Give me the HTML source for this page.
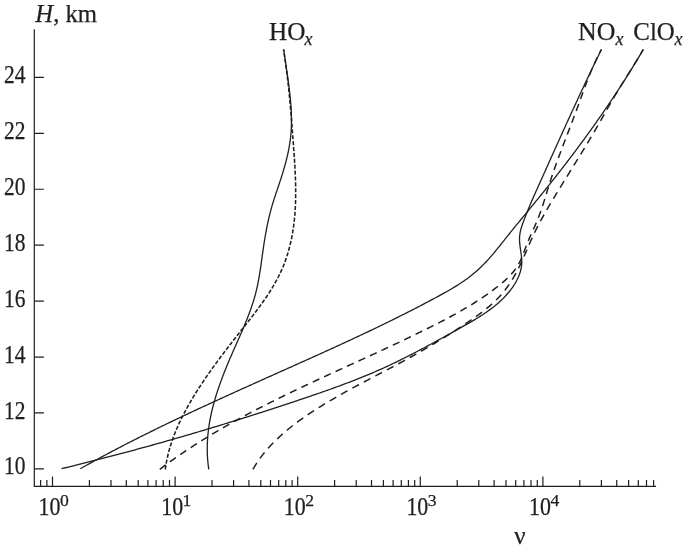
<!DOCTYPE html>
<html><head><meta charset="utf-8"><title>Figure</title>
<style>html,body{margin:0;padding:0;background:#fff}svg{display:block}</style>
</head><body>
<svg width="685" height="553" viewBox="0 0 685 553">
<rect width="685" height="553" fill="#fff"/>
<g fill="none" stroke="#1f1f1f" stroke-width="1.2" stroke-linecap="butt">
<path d="M34.3 29.3 V486.3 H656.1"/>
<path d="M34.3 468.90 h9.6 M34.3 412.97 h9.6 M34.3 357.04 h9.6 M34.3 301.11 h9.6 M34.3 245.19 h9.6 M34.3 189.26 h9.6 M34.3 133.33 h9.6 M34.3 77.40 h9.6 M40.62 486.3 v-6.2 M46.89 486.3 v-6.2 M52.50 486.3 v-9.8 M89.41 486.3 v-6.2 M111.00 486.3 v-6.2 M126.31 486.3 v-6.2 M138.19 486.3 v-6.2 M147.90 486.3 v-6.2 M156.11 486.3 v-6.2 M163.22 486.3 v-6.2 M169.49 486.3 v-6.2 M175.10 486.3 v-9.8 M212.01 486.3 v-6.2 M233.60 486.3 v-6.2 M248.91 486.3 v-6.2 M260.79 486.3 v-6.2 M270.50 486.3 v-6.2 M278.71 486.3 v-6.2 M285.82 486.3 v-6.2 M292.09 486.3 v-6.2 M297.70 486.3 v-9.8 M334.61 486.3 v-6.2 M356.20 486.3 v-6.2 M371.51 486.3 v-6.2 M383.39 486.3 v-6.2 M393.10 486.3 v-6.2 M401.31 486.3 v-6.2 M408.42 486.3 v-6.2 M414.69 486.3 v-6.2 M420.30 486.3 v-9.8 M457.21 486.3 v-6.2 M478.80 486.3 v-6.2 M494.11 486.3 v-6.2 M505.99 486.3 v-6.2 M515.70 486.3 v-6.2 M523.91 486.3 v-6.2 M531.02 486.3 v-6.2 M537.29 486.3 v-6.2 M542.90 486.3 v-9.8 M579.81 486.3 v-6.2 M601.40 486.3 v-6.2 M616.71 486.3 v-6.2 M628.59 486.3 v-6.2 M638.30 486.3 v-6.2 M646.51 486.3 v-6.2 M653.62 486.3 v-6.2 "/>
</g>
<g fill="none" stroke="#1f1f1f" stroke-width="1.3" stroke-linejoin="round">
<path d="M208.80 469.40L208.50 467.36 208.24 465.32 208.01 463.28 207.81 461.25 207.64 459.22 207.50 457.20 207.40 455.18 207.32 453.17 207.27 451.16 207.25 449.15 207.26 447.14 207.30 445.15 207.36 443.15 207.45 441.16 207.57 439.17 207.71 437.18 207.88 435.20 208.07 433.23 208.29 431.25 208.53 429.28 208.80 427.32 209.09 425.35 209.40 423.39 209.73 421.44 210.09 419.48 210.46 417.53 210.86 415.59 211.27 413.65 211.71 411.71 212.16 409.77 212.64 407.84 213.13 405.91 213.64 403.98 214.17 402.06 214.71 400.14 215.27 398.22 215.85 396.31 216.44 394.39 217.04 392.49 217.66 390.58 218.30 388.68 218.95 386.78 219.61 384.88 220.28 382.99 220.96 381.10 221.66 379.21 222.37 377.32 223.09 375.44 223.81 373.56 224.55 371.68 225.30 369.80 226.05 367.93 226.82 366.06 227.59 364.19 228.37 362.33 229.15 360.46 229.94 358.60 230.74 356.74 231.54 354.89 232.35 353.03 233.16 351.18 233.97 349.33 234.79 347.49 235.61 345.64 236.43 343.79 237.24 341.95 238.06 340.10 238.88 338.26 239.69 336.42 240.50 334.57 241.31 332.73 242.11 330.88 242.90 329.03 243.69 327.18 244.46 325.33 245.23 323.48 245.99 321.62 246.74 319.77 247.48 317.91 248.21 316.04 248.92 314.17 249.62 312.30 250.30 310.43 250.97 308.55 251.62 306.66 252.26 304.78 252.87 302.88 253.47 300.98 254.05 299.08 254.60 297.16 255.14 295.25 255.65 293.32 256.13 291.39 256.60 289.45 257.04 287.51 257.46 285.56 257.87 283.60 258.25 281.64 258.62 279.67 258.97 277.70 259.31 275.73 259.64 273.75 259.96 271.77 260.27 269.78 260.56 267.80 260.86 265.81 261.14 263.82 261.42 261.83 261.70 259.84 261.98 257.85 262.25 255.86 262.53 253.87 262.81 251.88 263.10 249.89 263.39 247.91 263.68 245.93 263.98 243.94 264.29 241.97 264.61 239.99 264.93 238.01 265.26 236.04 265.60 234.07 265.96 232.11 266.32 230.14 266.69 228.18 267.08 226.23 267.48 224.27 267.89 222.32 268.32 220.37 268.76 218.43 269.22 216.48 269.69 214.55 270.18 212.61 270.68 210.68 271.20 208.75 271.74 206.83 272.30 204.91 272.88 202.99 273.47 201.08 274.08 199.17 274.70 197.26 275.33 195.36 275.96 193.45 276.61 191.55 277.25 189.64 277.90 187.74 278.54 185.83 279.18 183.92 279.82 182.01 280.45 180.10 281.08 178.18 281.69 176.26 282.29 174.34 282.88 172.41 283.46 170.48 284.03 168.55 284.58 166.62 285.12 164.68 285.64 162.74 286.15 160.80 286.64 158.85 287.11 156.90 287.56 154.95 287.99 152.99 288.39 151.03 288.78 149.07 289.14 147.11 289.48 145.14 289.80 143.17 290.09 141.20 290.35 139.22 290.59 137.24 290.80 135.26 290.97 133.27 291.12 131.29 291.25 129.30 291.34 127.30 291.41 125.31 291.46 123.31 291.48 121.31 291.48 119.31 291.45 117.31 291.41 115.31 291.34 113.30 291.26 111.30 291.15 109.29 291.03 107.28 290.89 105.27 290.74 103.27 290.57 101.26 290.39 99.25 290.19 97.24 289.98 95.23 289.76 93.22 289.53 91.22 289.29 89.21 289.04 87.20 288.78 85.20 288.52 83.20 288.24 81.19 287.97 79.19 287.69 77.20 287.40 75.20 287.12 73.21 286.83 71.21 286.54 69.22 286.25 67.24 285.96 65.25 285.68 63.27 285.39 61.29 285.11 59.32 284.84 57.35 284.57 55.38 284.30 53.42 284.05 51.46 283.80 49.50"/>
<path d="M61.50 468.70L63.45 468.23 65.41 467.75 67.36 467.28 69.31 466.80 71.26 466.32 73.21 465.84 75.16 465.36 77.11 464.87 79.06 464.39 81.01 463.90 82.95 463.42 84.90 462.93 86.85 462.44 88.79 461.95 90.73 461.46 92.68 460.96 94.62 460.47 96.56 459.97 98.50 459.48 100.45 458.98 102.39 458.48 104.32 457.97 106.26 457.47 108.20 456.97 110.14 456.46 112.08 455.96 114.01 455.45 115.95 454.94 117.88 454.43 119.82 453.91 121.75 453.40 123.69 452.89 125.62 452.37 127.55 451.85 129.48 451.33 131.41 450.81 133.34 450.29 135.27 449.77 137.20 449.24 139.13 448.72 141.06 448.19 142.99 447.66 144.92 447.13 146.84 446.60 148.77 446.07 150.69 445.54 152.62 445.00 154.54 444.46 156.47 443.93 158.39 443.39 160.32 442.85 162.24 442.31 164.16 441.76 166.08 441.22 168.01 440.67 169.93 440.12 171.85 439.58 173.77 439.03 175.69 438.47 177.61 437.92 179.53 437.37 181.44 436.81 183.36 436.26 185.28 435.70 187.20 435.14 189.11 434.58 191.03 434.02 192.95 433.45 194.86 432.89 196.78 432.32 198.69 431.75 200.61 431.19 202.52 430.62 204.44 430.04 206.35 429.47 208.27 428.90 210.18 428.32 212.09 427.74 214.00 427.17 215.92 426.59 217.83 426.01 219.74 425.42 221.65 424.84 223.56 424.25 225.47 423.67 227.38 423.08 229.29 422.49 231.20 421.90 233.11 421.31 235.02 420.72 236.93 420.12 238.84 419.52 240.75 418.93 242.66 418.33 244.57 417.73 246.48 417.13 248.38 416.52 250.29 415.92 252.20 415.32 254.11 414.71 256.01 414.10 257.92 413.49 259.83 412.88 261.74 412.27 263.64 411.65 265.55 411.04 267.45 410.42 269.36 409.81 271.27 409.19 273.17 408.57 275.08 407.94 276.98 407.32 278.89 406.70 280.80 406.07 282.70 405.44 284.61 404.82 286.51 404.19 288.42 403.55 290.32 402.92 292.23 402.29 294.13 401.65 296.04 401.02 297.94 400.38 299.85 399.74 301.75 399.10 303.66 398.45 305.56 397.81 307.46 397.17 309.37 396.52 311.27 395.87 313.17 395.22 315.08 394.56 316.98 393.91 318.88 393.25 320.78 392.59 322.68 391.92 324.57 391.26 326.47 390.59 328.36 389.92 330.26 389.24 332.15 388.56 334.04 387.88 335.93 387.19 337.81 386.50 339.70 385.81 341.58 385.11 343.46 384.41 345.34 383.71 347.22 383.00 349.09 382.28 350.96 381.56 352.83 380.84 354.70 380.11 356.56 379.38 358.42 378.64 360.28 377.90 362.14 377.15 363.99 376.40 365.84 375.64 367.68 374.87 369.52 374.10 371.36 373.33 373.20 372.54 375.03 371.75 376.86 370.96 378.68 370.16 380.50 369.35 382.32 368.54 384.13 367.72 385.94 366.89 387.74 366.06 389.54 365.22 391.34 364.37 393.13 363.52 394.93 362.66 396.71 361.80 398.50 360.93 400.28 360.06 402.06 359.18 403.84 358.29 405.62 357.40 407.39 356.51 409.16 355.61 410.93 354.70 412.70 353.80 414.46 352.88 416.23 351.96 417.99 351.04 419.76 350.11 421.52 349.18 423.28 348.25 425.04 347.31 426.80 346.37 428.56 345.42 430.32 344.47 432.07 343.52 433.83 342.56 435.59 341.61 437.35 340.64 439.11 339.68 440.87 338.71 442.63 337.74 444.39 336.77 446.16 335.79 447.92 334.82 449.69 333.84 451.45 332.86 453.22 331.87 454.99 330.89 456.77 329.90 458.54 328.91 460.32 327.92 462.09 326.93 463.87 325.93 465.64 324.93 467.41 323.93 469.18 322.91 470.94 321.89 472.70 320.86 474.45 319.82 476.18 318.77 477.91 317.71 479.63 316.64 481.34 315.55 483.03 314.45 484.70 313.33 486.36 312.19 488.01 311.04 489.63 309.87 491.24 308.68 492.82 307.47 494.39 306.24 495.93 304.98 497.44 303.71 498.93 302.40 500.39 301.08 501.83 299.72 503.23 298.34 504.61 296.93 505.95 295.49 507.26 294.02 508.54 292.52 509.78 290.98 510.99 289.42 512.16 287.81 513.29 286.18 514.38 284.50 515.42 282.80 516.40 281.06 517.32 279.29 518.18 277.49 518.96 275.67 519.65 273.82 520.26 271.94 520.78 270.04 521.19 268.12 521.49 266.19 521.68 264.23 521.75 262.26 521.72 260.28 521.59 258.28 521.40 256.27 521.16 254.26 520.88 252.25 520.59 250.23 520.30 248.21 520.03 246.20 519.80 244.19 519.63 242.18 519.53 240.19 519.52 238.21 519.62 236.24 519.84 234.29 520.17 232.35 520.59 230.43 521.10 228.52 521.68 226.62 522.31 224.73 522.97 222.84 523.67 220.96 524.38 219.09 525.10 217.21 525.83 215.35 526.57 213.48 527.32 211.62 528.08 209.76 528.84 207.91 529.62 206.06 530.40 204.21 531.19 202.36 531.99 200.52 532.79 198.68 533.60 196.84 534.41 195.00 535.22 193.16 536.04 191.33 536.86 189.49 537.68 187.66 538.50 185.83 539.33 183.99 540.15 182.16 540.97 180.33 541.79 178.50 542.61 176.67 543.43 174.84 544.26 173.01 545.08 171.18 545.90 169.36 546.72 167.53 547.54 165.70 548.36 163.87 549.18 162.05 550.00 160.22 550.82 158.39 551.64 156.57 552.46 154.74 553.28 152.92 554.10 151.09 554.92 149.27 555.74 147.45 556.56 145.62 557.38 143.80 558.20 141.98 559.03 140.16 559.85 138.34 560.67 136.51 561.50 134.69 562.32 132.87 563.15 131.05 563.97 129.23 564.80 127.41 565.62 125.59 566.45 123.78 567.28 121.96 568.11 120.14 568.94 118.32 569.77 116.50 570.60 114.69 571.43 112.87 572.27 111.05 573.10 109.24 573.93 107.42 574.77 105.61 575.61 103.79 576.45 101.98 577.29 100.16 578.13 98.35 578.97 96.54 579.81 94.72 580.66 92.91 581.50 91.10 582.35 89.29 583.20 87.47 584.05 85.66 584.90 83.85 585.75 82.04 586.61 80.23 587.46 78.42 588.32 76.61 589.18 74.80 590.04 72.99 590.90 71.18 591.77 69.37 592.63 67.57 593.50 65.76 594.37 63.95 595.24 62.14 596.12 60.34 596.99 58.53 597.87 56.72 598.75 54.92 599.63 53.11 600.51 51.31 601.40 49.50"/>
<path d="M80.30 468.70L82.05 467.72 83.80 466.74 85.55 465.76 87.30 464.79 89.05 463.82 90.81 462.85 92.56 461.88 94.32 460.92 96.08 459.96 97.84 459.00 99.60 458.05 101.37 457.10 103.13 456.15 104.90 455.20 106.67 454.26 108.44 453.32 110.21 452.38 111.98 451.44 113.75 450.51 115.52 449.58 117.30 448.65 119.08 447.73 120.85 446.80 122.63 445.88 124.41 444.96 126.19 444.04 127.98 443.13 129.76 442.22 131.54 441.31 133.33 440.40 135.12 439.49 136.91 438.59 138.69 437.69 140.48 436.79 142.28 435.89 144.07 435.00 145.86 434.10 147.66 433.21 149.45 432.32 151.25 431.44 153.04 430.55 154.84 429.67 156.64 428.79 158.44 427.91 160.24 427.03 162.04 426.15 163.85 425.28 165.65 424.40 167.46 423.53 169.26 422.66 171.07 421.80 172.87 420.93 174.68 420.07 176.49 419.20 178.30 418.34 180.11 417.48 181.92 416.62 183.73 415.77 185.54 414.91 187.36 414.06 189.17 413.20 190.98 412.35 192.80 411.50 194.61 410.65 196.43 409.80 198.25 408.96 200.06 408.11 201.88 407.27 203.70 406.43 205.52 405.58 207.34 404.74 209.16 403.90 210.98 403.07 212.80 402.23 214.62 401.39 216.44 400.56 218.27 399.72 220.09 398.89 221.91 398.05 223.74 397.22 225.56 396.39 227.38 395.56 229.21 394.73 231.03 393.90 232.86 393.07 234.68 392.25 236.51 391.42 238.34 390.59 240.16 389.77 241.99 388.94 243.82 388.12 245.65 387.30 247.47 386.47 249.30 385.65 251.13 384.83 252.96 384.01 254.78 383.18 256.61 382.36 258.44 381.54 260.27 380.72 262.10 379.90 263.93 379.08 265.76 378.26 267.59 377.44 269.42 376.62 271.24 375.80 273.07 374.98 274.90 374.17 276.73 373.35 278.56 372.53 280.39 371.71 282.22 370.89 284.05 370.07 285.88 369.25 287.71 368.43 289.54 367.62 291.36 366.80 293.19 365.98 295.02 365.16 296.85 364.34 298.68 363.52 300.50 362.70 302.33 361.88 304.16 361.06 305.99 360.24 307.81 359.41 309.64 358.59 311.47 357.77 313.29 356.95 315.12 356.12 316.94 355.30 318.77 354.47 320.59 353.65 322.42 352.82 324.24 351.99 326.06 351.17 327.89 350.34 329.71 349.51 331.53 348.68 333.35 347.84 335.17 347.01 337.00 346.18 338.82 345.34 340.64 344.51 342.45 343.67 344.27 342.83 346.09 341.99 347.91 341.15 349.73 340.31 351.54 339.47 353.36 338.62 355.17 337.77 356.99 336.93 358.80 336.08 360.61 335.22 362.43 334.37 364.24 333.52 366.05 332.66 367.86 331.80 369.67 330.94 371.48 330.08 373.28 329.22 375.09 328.35 376.90 327.49 378.70 326.62 380.51 325.75 382.31 324.87 384.11 324.00 385.91 323.12 387.72 322.24 389.52 321.36 391.31 320.47 393.11 319.59 394.91 318.70 396.71 317.81 398.50 316.91 400.29 316.02 402.09 315.12 403.88 314.22 405.67 313.31 407.46 312.41 409.25 311.50 411.04 310.59 412.82 309.67 414.61 308.76 416.39 307.84 418.18 306.91 419.96 305.99 421.74 305.06 423.52 304.13 425.30 303.19 427.07 302.26 428.85 301.31 430.62 300.37 432.40 299.42 434.17 298.47 435.94 297.52 437.71 296.56 439.48 295.60 441.24 294.64 443.01 293.67 444.77 292.69 446.52 291.71 448.27 290.71 450.01 289.71 451.74 288.70 453.46 287.67 455.18 286.64 456.88 285.58 458.57 284.52 460.25 283.43 461.91 282.33 463.56 281.21 465.19 280.07 466.81 278.91 468.41 277.73 469.99 276.52 471.55 275.30 473.09 274.04 474.61 272.77 476.12 271.47 477.60 270.15 479.06 268.81 480.51 267.45 481.94 266.06 483.34 264.66 484.73 263.23 486.11 261.79 487.46 260.32 488.80 258.85 490.13 257.35 491.45 255.85 492.75 254.33 494.04 252.80 495.33 251.26 496.60 249.71 497.87 248.15 499.13 246.59 500.39 245.02 501.64 243.44 502.90 241.87 504.14 240.29 505.39 238.71 506.64 237.14 507.89 235.56 509.15 233.99 510.40 232.42 511.66 230.86 512.93 229.30 514.19 227.75 515.46 226.19 516.73 224.64 518.00 223.09 519.27 221.55 520.54 220.00 521.82 218.46 523.09 216.91 524.37 215.37 525.64 213.83 526.92 212.28 528.19 210.74 529.46 209.20 530.73 207.65 532.00 206.10 533.27 204.56 534.53 203.01 535.80 201.46 537.06 199.91 538.33 198.36 539.59 196.80 540.85 195.25 542.11 193.69 543.36 192.14 544.62 190.58 545.87 189.02 547.12 187.46 548.37 185.89 549.62 184.33 550.87 182.76 552.11 181.19 553.35 179.62 554.59 178.05 555.83 176.48 557.07 174.90 558.30 173.32 559.53 171.75 560.76 170.16 561.99 168.58 563.21 167.00 564.44 165.41 565.66 163.82 566.88 162.23 568.09 160.64 569.31 159.05 570.52 157.45 571.73 155.85 572.94 154.26 574.14 152.65 575.35 151.05 576.55 149.45 577.74 147.84 578.94 146.23 580.13 144.62 581.32 143.01 582.51 141.40 583.70 139.78 584.88 138.16 586.06 136.54 587.24 134.92 588.41 133.30 589.58 131.67 590.75 130.04 591.92 128.41 593.09 126.78 594.25 125.15 595.41 123.51 596.56 121.87 597.71 120.24 598.86 118.59 600.01 116.95 601.16 115.31 602.30 113.66 603.44 112.01 604.57 110.36 605.71 108.70 606.84 107.05 607.96 105.39 609.09 103.73 610.21 102.07 611.32 100.40 612.44 98.74 613.55 97.07 614.66 95.40 615.76 93.73 616.87 92.05 617.96 90.38 619.06 88.70 620.15 87.02 621.24 85.34 622.33 83.65 623.41 81.97 624.49 80.28 625.56 78.58 626.63 76.89 627.70 75.20 628.77 73.50 629.83 71.80 630.89 70.10 631.94 68.39 632.99 66.69 634.04 64.98 635.08 63.27 636.12 61.55 637.16 59.84 638.19 58.12 639.22 56.40 640.25 54.68 641.27 52.96 642.29 51.23 643.30 49.50"/>
<path d="M165.30 469.40L165.57 467.39 165.88 465.40 166.21 463.41 166.57 461.43 166.96 459.46 167.38 457.50 167.82 455.54 168.29 453.60 168.79 451.66 169.31 449.73 169.86 447.81 170.43 445.90 171.03 443.99 171.65 442.10 172.29 440.21 172.96 438.33 173.64 436.46 174.35 434.59 175.08 432.74 175.83 430.89 176.60 429.05 177.39 427.21 178.19 425.39 179.02 423.57 179.86 421.76 180.72 419.95 181.60 418.16 182.49 416.37 183.40 414.58 184.32 412.81 185.25 411.04 186.21 409.28 187.17 407.52 188.15 405.78 189.13 404.04 190.13 402.30 191.15 400.57 192.17 398.85 193.20 397.14 194.24 395.43 195.29 393.73 196.35 392.03 197.42 390.34 198.49 388.66 199.58 386.98 200.67 385.31 201.77 383.64 202.88 381.98 203.99 380.33 205.11 378.67 206.24 377.03 207.38 375.39 208.52 373.75 209.66 372.11 210.82 370.48 211.98 368.86 213.14 367.24 214.32 365.62 215.49 364.00 216.67 362.39 217.86 360.78 219.05 359.17 220.25 357.57 221.45 355.97 222.66 354.37 223.86 352.77 225.08 351.18 226.29 349.59 227.51 348.00 228.74 346.41 229.96 344.82 231.19 343.23 232.42 341.64 233.66 340.06 234.90 338.47 236.13 336.89 237.37 335.30 238.62 333.72 239.86 332.14 241.11 330.55 242.35 328.97 243.60 327.38 244.85 325.79 246.10 324.21 247.34 322.62 248.59 321.03 249.83 319.43 251.07 317.84 252.31 316.24 253.54 314.64 254.76 313.04 255.98 311.43 257.19 309.81 258.39 308.20 259.59 306.58 260.77 304.95 261.95 303.32 263.11 301.68 264.26 300.04 265.40 298.39 266.53 296.73 267.64 295.07 268.73 293.40 269.81 291.72 270.88 290.04 271.92 288.35 272.95 286.64 273.96 284.93 274.95 283.21 275.92 281.48 276.87 279.74 277.79 277.99 278.69 276.23 279.57 274.46 280.43 272.68 281.26 270.89 282.06 269.08 282.84 267.26 283.59 265.43 284.31 263.59 285.01 261.74 285.68 259.88 286.32 258.01 286.94 256.12 287.54 254.23 288.11 252.33 288.66 250.42 289.18 248.50 289.68 246.58 290.16 244.65 290.62 242.71 291.05 240.76 291.46 238.81 291.85 236.85 292.22 234.89 292.56 232.92 292.89 230.95 293.19 228.97 293.48 226.99 293.75 225.01 293.99 223.03 294.22 221.04 294.43 219.05 294.62 217.06 294.80 215.07 294.95 213.08 295.09 211.08 295.22 209.08 295.33 207.08 295.42 205.09 295.50 203.08 295.56 201.08 295.61 199.08 295.65 197.08 295.67 195.07 295.69 193.06 295.68 191.06 295.67 189.05 295.65 187.04 295.62 185.03 295.57 183.03 295.52 181.02 295.45 179.01 295.38 177.00 295.30 174.99 295.21 172.98 295.12 170.97 295.02 168.96 294.91 166.95 294.79 164.94 294.67 162.93 294.55 160.92 294.42 158.91 294.28 156.91 294.15 154.90 294.00 152.89 293.86 150.89 293.71 148.88 293.57 146.88 293.42 144.88 293.26 142.87 293.11 140.87 292.96 138.88 292.81 136.88 292.66 134.88 292.51 132.89 292.36 130.89 292.20 128.90 292.05 126.91 291.90 124.91 291.74 122.92 291.58 120.93 291.42 118.95 291.26 116.96 291.10 114.97 290.93 112.98 290.77 111.00 290.60 109.01 290.42 107.03 290.25 105.04 290.07 103.06 289.89 101.08 289.70 99.10 289.51 97.11 289.32 95.13 289.13 93.15 288.93 91.17 288.72 89.18 288.51 87.20 288.30 85.22 288.08 83.24 287.86 81.26 287.63 79.28 287.39 77.29 287.15 75.31 286.91 73.33 286.66 71.35 286.40 69.36 286.13 67.38 285.86 65.39 285.59 63.41 285.30 61.42 285.01 59.44 284.72 57.45 284.41 55.47 284.10 53.48 283.78 51.49 283.45 49.50" stroke-dasharray="4.1 1.8" stroke-width="1.55"/>
<path d="M159.80 469.30L161.41 468.09 163.02 466.88 164.64 465.69 166.26 464.49 167.89 463.31 169.52 462.13 171.15 460.96 172.78 459.80 174.42 458.64 176.07 457.49 177.71 456.34 179.36 455.20 181.02 454.07 182.67 452.94 184.34 451.82 186.00 450.71 187.67 449.60 189.34 448.50 191.01 447.40 192.69 446.31 194.37 445.23 196.05 444.15 197.74 443.07 199.43 442.01 201.12 440.94 202.82 439.89 204.52 438.83 206.22 437.79 207.92 436.75 209.63 435.71 211.34 434.68 213.06 433.65 214.77 432.63 216.49 431.62 218.21 430.61 219.94 429.60 221.66 428.60 223.39 427.60 225.12 426.61 226.86 425.62 228.60 424.64 230.34 423.66 232.08 422.68 233.82 421.71 235.57 420.75 237.32 419.78 239.07 418.83 240.82 417.87 242.58 416.92 244.34 415.98 246.10 415.03 247.86 414.09 249.62 413.16 251.39 412.23 253.16 411.30 254.93 410.37 256.70 409.45 258.47 408.54 260.25 407.62 262.03 406.71 263.80 405.80 265.59 404.90 267.37 403.99 269.15 403.10 270.94 402.20 272.73 401.31 274.52 400.42 276.31 399.53 278.10 398.64 279.89 397.76 281.69 396.88 283.48 396.00 285.28 395.13 287.08 394.25 288.88 393.38 290.68 392.52 292.49 391.65 294.29 390.78 296.10 389.92 297.90 389.06 299.71 388.20 301.52 387.35 303.33 386.49 305.14 385.64 306.95 384.79 308.76 383.94 310.58 383.09 312.39 382.24 314.20 381.39 316.02 380.55 317.84 379.71 319.65 378.86 321.47 378.02 323.29 377.18 325.11 376.34 326.93 375.50 328.74 374.67 330.56 373.83 332.39 372.99 334.21 372.16 336.03 371.32 337.85 370.49 339.67 369.65 341.49 368.82 343.32 367.99 345.14 367.15 346.96 366.32 348.78 365.49 350.61 364.66 352.43 363.82 354.25 362.99 356.07 362.16 357.90 361.32 359.72 360.49 361.54 359.66 363.36 358.82 365.19 357.99 367.01 357.15 368.83 356.32 370.65 355.48 372.47 354.64 374.29 353.81 376.11 352.97 377.93 352.13 379.75 351.29 381.57 350.44 383.39 349.60 385.21 348.76 387.02 347.91 388.84 347.06 390.65 346.22 392.47 345.37 394.28 344.52 396.09 343.66 397.91 342.81 399.72 341.95 401.53 341.10 403.34 340.24 405.15 339.37 406.95 338.51 408.76 337.65 410.56 336.78 412.37 335.91 414.17 335.04 415.97 334.16 417.77 333.29 419.57 332.41 421.37 331.53 423.17 330.64 424.96 329.76 426.75 328.87 428.55 327.97 430.34 327.08 432.13 326.18 433.91 325.28 435.70 324.38 437.48 323.47 439.26 322.56 441.04 321.64 442.82 320.72 444.59 319.79 446.36 318.86 448.13 317.93 449.89 316.98 451.65 316.03 453.41 315.08 455.16 314.12 456.91 313.15 458.65 312.17 460.39 311.19 462.12 310.19 463.85 309.19 465.57 308.19 467.29 307.17 469.01 306.14 470.71 305.10 472.41 304.06 474.11 303.00 475.80 301.93 477.48 300.86 479.16 299.77 480.82 298.67 482.49 297.56 484.14 296.44 485.79 295.30 487.43 294.15 489.06 292.99 490.68 291.82 492.30 290.63 493.90 289.43 495.50 288.22 497.09 286.99 498.67 285.74 500.24 284.48 501.79 283.20 503.32 281.90 504.82 280.58 506.30 279.23 507.75 277.86 509.16 276.45 510.53 275.02 511.86 273.55 513.14 272.05 514.37 270.50 515.54 268.92 516.66 267.30 517.71 265.63 518.69 263.92 519.62 262.16 520.49 260.37 521.32 258.55 522.10 256.70 522.86 254.83 523.59 252.94 524.31 251.04 525.02 249.14 525.74 247.24 526.46 245.35 527.20 243.47 527.97 241.60 528.75 239.75 529.54 237.90 530.35 236.07 531.16 234.25 531.98 232.43 532.80 230.61 533.61 228.79 534.43 226.98 535.23 225.16 536.02 223.34 536.80 221.51 537.55 219.67 538.29 217.82 539.01 215.97 539.70 214.10 540.38 212.23 541.04 210.35 541.69 208.47 542.33 206.57 542.96 204.68 543.57 202.78 544.18 200.87 544.78 198.96 545.37 197.05 545.97 195.14 546.55 193.22 547.14 191.30 547.73 189.39 548.32 187.47 548.92 185.56 549.52 183.65 550.12 181.74 550.74 179.83 551.36 177.93 551.99 176.03 552.63 174.13 553.28 172.23 553.93 170.34 554.59 168.45 555.25 166.57 555.92 164.68 556.60 162.80 557.28 160.92 557.97 159.04 558.66 157.16 559.35 155.29 560.05 153.41 560.76 151.54 561.46 149.67 562.17 147.80 562.88 145.93 563.59 144.06 564.31 142.20 565.02 140.33 565.74 138.46 566.46 136.60 567.18 134.73 567.89 132.87 568.61 131.00 569.33 129.14 570.05 127.27 570.76 125.40 571.47 123.54 572.19 121.67 572.89 119.80 573.60 117.93 574.30 116.06 575.00 114.19 575.70 112.32 576.39 110.44 577.08 108.57 577.77 106.69 578.45 104.81 579.12 102.93 579.80 101.05 580.47 99.17 581.14 97.29 581.82 95.41 582.49 93.53 583.17 91.65 583.86 89.77 584.54 87.90 585.23 86.02 585.93 84.15 586.64 82.29 587.35 80.42 588.08 78.56 588.81 76.71 589.55 74.85 590.31 73.01 591.08 71.17 591.86 69.33 592.66 67.50 593.47 65.67 594.29 63.85 595.13 62.04 595.98 60.23 596.85 58.43 597.73 56.63 598.62 54.84 599.53 53.05 600.46 51.27 601.40 49.50" stroke-dasharray="7.3 5.3" stroke-width="1.5"/>
<path d="M252.90 469.30L253.93 467.55 254.98 465.82 256.06 464.12 257.17 462.43 258.30 460.77 259.46 459.13 260.64 457.51 261.85 455.91 263.07 454.34 264.32 452.78 265.60 451.24 266.89 449.72 268.20 448.22 269.54 446.73 270.89 445.27 272.26 443.82 273.65 442.40 275.06 440.98 276.49 439.59 277.93 438.21 279.39 436.85 280.87 435.50 282.36 434.17 283.87 432.86 285.39 431.56 286.92 430.27 288.46 429.00 290.02 427.74 291.59 426.50 293.18 425.27 294.77 424.05 296.37 422.84 297.98 421.65 299.61 420.46 301.24 419.29 302.88 418.13 304.52 416.99 306.17 415.85 307.83 414.72 309.50 413.60 311.17 412.49 312.85 411.39 314.53 410.30 316.21 409.22 317.90 408.15 319.60 407.08 321.30 406.02 323.01 404.98 324.72 403.93 326.43 402.90 328.15 401.87 329.87 400.85 331.60 399.84 333.32 398.83 335.06 397.83 336.79 396.83 338.53 395.84 340.28 394.86 342.02 393.88 343.77 392.90 345.52 391.93 347.27 390.96 349.03 390.00 350.79 389.04 352.55 388.09 354.31 387.14 356.07 386.19 357.84 385.24 359.61 384.30 361.37 383.36 363.14 382.42 364.91 381.49 366.68 380.55 368.46 379.62 370.23 378.68 372.00 377.75 373.78 376.82 375.55 375.89 377.33 374.96 379.10 374.03 380.87 373.10 382.65 372.17 384.42 371.24 386.19 370.30 387.96 369.37 389.73 368.43 391.50 367.50 393.27 366.56 395.04 365.61 396.80 364.67 398.57 363.72 400.33 362.77 402.09 361.82 403.85 360.86 405.60 359.90 407.36 358.94 409.11 357.97 410.86 357.00 412.61 356.02 414.35 355.04 416.09 354.06 417.84 353.08 419.58 352.09 421.31 351.09 423.05 350.10 424.78 349.09 426.51 348.09 428.24 347.08 429.96 346.06 431.69 345.05 433.41 344.02 435.13 343.00 436.84 341.96 438.56 340.93 440.27 339.89 441.98 338.84 443.68 337.79 445.38 336.74 447.09 335.68 448.78 334.61 450.48 333.54 452.17 332.47 453.86 331.39 455.55 330.30 457.23 329.21 458.92 328.11 460.59 327.01 462.27 325.91 463.94 324.80 465.61 323.68 467.28 322.55 468.95 321.43 470.61 320.29 472.26 319.15 473.91 318.00 475.55 316.84 477.19 315.67 478.81 314.49 480.43 313.29 482.03 312.08 483.61 310.86 485.19 309.63 486.74 308.37 488.28 307.10 489.80 305.82 491.31 304.51 492.79 303.18 494.25 301.83 495.68 300.46 497.09 299.07 498.48 297.65 499.83 296.20 501.16 294.73 502.46 293.24 503.73 291.71 504.97 290.16 506.18 288.58 507.36 286.97 508.51 285.34 509.63 283.69 510.73 282.01 511.80 280.32 512.85 278.61 513.87 276.88 514.86 275.13 515.83 273.37 516.79 271.60 517.71 269.81 518.62 268.02 519.51 266.21 520.39 264.40 521.24 262.57 522.08 260.75 522.92 258.91 523.74 257.08 524.55 255.23 525.35 253.39 526.15 251.54 526.95 249.70 527.75 247.85 528.55 246.01 529.34 244.16 530.15 242.32 530.96 240.49 531.77 238.66 532.60 236.84 533.44 235.02 534.29 233.21 535.16 231.41 536.04 229.62 536.93 227.83 537.83 226.06 538.75 224.29 539.68 222.52 540.62 220.77 541.57 219.02 542.54 217.27 543.51 215.53 544.49 213.80 545.47 212.06 546.47 210.34 547.47 208.61 548.48 206.89 549.49 205.17 550.51 203.45 551.53 201.73 552.56 200.02 553.59 198.31 554.63 196.59 555.66 194.88 556.70 193.17 557.75 191.46 558.79 189.75 559.84 188.04 560.89 186.33 561.94 184.62 563.00 182.91 564.05 181.20 565.11 179.50 566.17 177.79 567.23 176.08 568.29 174.38 569.35 172.67 570.41 170.96 571.47 169.26 572.53 167.55 573.58 165.84 574.64 164.14 575.70 162.43 576.76 160.72 577.81 159.01 578.87 157.30 579.92 155.60 580.97 153.89 582.02 152.18 583.06 150.47 584.10 148.76 585.14 147.04 586.18 145.33 587.21 143.62 588.24 141.90 589.27 140.19 590.29 138.47 591.31 136.75 592.33 135.03 593.33 133.31 594.34 131.59 595.34 129.87 596.33 128.15 597.33 126.42 598.31 124.70 599.30 122.97 600.28 121.25 601.26 119.52 602.24 117.79 603.21 116.07 604.19 114.34 605.16 112.62 606.14 110.89 607.11 109.17 608.09 107.45 609.07 105.73 610.06 104.01 611.05 102.30 612.05 100.59 613.05 98.88 614.07 97.17 615.08 95.47 616.10 93.77 617.13 92.07 618.16 90.37 619.20 88.68 620.24 86.98 621.28 85.29 622.33 83.59 623.38 81.90 624.43 80.21 625.48 78.52 626.54 76.82 627.59 75.13 628.65 73.44 629.71 71.74 630.77 70.05 631.82 68.35 632.88 66.65 633.93 64.95 634.98 63.24 636.04 61.54 637.08 59.83 638.13 58.12 639.17 56.40 640.21 54.68 641.24 52.96 642.28 51.23 643.30 49.50" stroke-dasharray="7.5 5.5" stroke-width="1.5"/>
</g>
<g fill="#1f1f1f" font-family="'Liberation Serif', 'Times New Roman', serif" font-size="25" stroke="#1f1f1f" stroke-width="0.25">
<text x="25.5" y="474.4" font-size="24.2" text-anchor="end" textLength="21.5" lengthAdjust="spacingAndGlyphs">10</text>
<text x="25.5" y="418.5" font-size="24.2" text-anchor="end" textLength="21.5" lengthAdjust="spacingAndGlyphs">12</text>
<text x="25.5" y="362.5" font-size="24.2" text-anchor="end" textLength="21.5" lengthAdjust="spacingAndGlyphs">14</text>
<text x="25.5" y="306.6" font-size="24.2" text-anchor="end" textLength="21.5" lengthAdjust="spacingAndGlyphs">16</text>
<text x="25.5" y="250.7" font-size="24.2" text-anchor="end" textLength="21.5" lengthAdjust="spacingAndGlyphs">18</text>
<text x="25.5" y="194.8" font-size="24.2" text-anchor="end" textLength="21.5" lengthAdjust="spacingAndGlyphs">20</text>
<text x="25.5" y="138.8" font-size="24.2" text-anchor="end" textLength="21.5" lengthAdjust="spacingAndGlyphs">22</text>
<text x="25.5" y="82.9" font-size="24.2" text-anchor="end" textLength="21.5" lengthAdjust="spacingAndGlyphs">24</text>
<text x="38.6" y="515.1" font-size="24.2" textLength="21.9" lengthAdjust="spacingAndGlyphs">10</text>
<text x="60.0" y="506.3" font-size="16" textLength="8.8" lengthAdjust="spacingAndGlyphs">0</text>
<text x="161.2" y="515.1" font-size="24.2" textLength="21.9" lengthAdjust="spacingAndGlyphs">10</text>
<text x="182.6" y="506.3" font-size="16" textLength="8.8" lengthAdjust="spacingAndGlyphs">1</text>
<text x="283.8" y="515.1" font-size="24.2" textLength="21.9" lengthAdjust="spacingAndGlyphs">10</text>
<text x="305.2" y="506.3" font-size="16" textLength="8.8" lengthAdjust="spacingAndGlyphs">2</text>
<text x="406.4" y="515.1" font-size="24.2" textLength="21.9" lengthAdjust="spacingAndGlyphs">10</text>
<text x="427.8" y="506.3" font-size="16" textLength="8.8" lengthAdjust="spacingAndGlyphs">3</text>
<text x="529.0" y="515.1" font-size="24.2" textLength="21.9" lengthAdjust="spacingAndGlyphs">10</text>
<text x="550.4" y="506.3" font-size="16" textLength="8.8" lengthAdjust="spacingAndGlyphs">4</text>
<text x="35.3" y="22.2" textLength="61.8" lengthAdjust="spacingAndGlyphs"><tspan font-style="italic">H</tspan>, km</text>
<text x="269.0" y="40" textLength="36.4" lengthAdjust="spacingAndGlyphs">HO</text>
<text x="304.6" y="45.1" font-style="italic" font-size="18">x</text>
<text x="578.0" y="40" textLength="37.4" lengthAdjust="spacingAndGlyphs">NO</text>
<text x="615.4" y="45.1" font-style="italic" font-size="18">x</text>
<text x="633.3" y="40" textLength="41.5" lengthAdjust="spacingAndGlyphs">ClO</text>
<text x="674.4" y="45.1" font-style="italic" font-size="18">x</text>
<text x="514.3" y="543.7">ν</text>
</g>
</svg>
</body></html>
